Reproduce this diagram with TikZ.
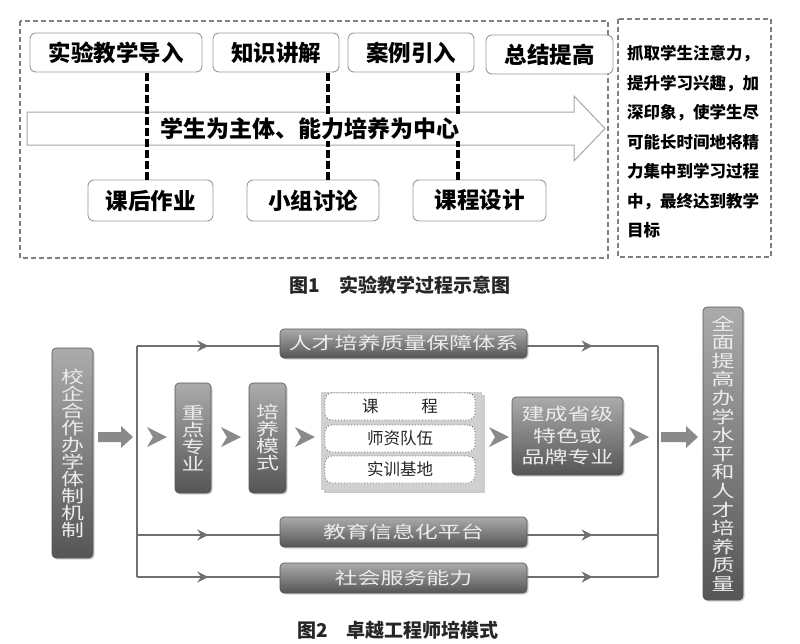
\documentclass[tikz,border=0pt]{standalone}
\usepackage{fontspec}
\newfontfamily\cjk{Noto Sans CJK SC}
\newfontfamily\cjkw[FakeStretch=1.35]{Noto Sans CJK SC}
\usetikzlibrary{shadows,decorations.markings,arrows.meta,calc}
\definecolor{boxline}{HTML}{9A9A9A}
\definecolor{dashgray}{HTML}{7F7F7F}
\definecolor{lnc}{HTML}{707070}
\definecolor{chevc}{HTML}{8A8A8A}
\definecolor{dtop}{HTML}{ABABAB}
\definecolor{dbot}{HTML}{555555}
\definecolor{dtext}{HTML}{ECECEC}
\definecolor{stackc}{HTML}{D0D0D0}
\definecolor{dotc}{HTML}{6A6A6A}
\tikzset{
 tbox/.style={draw=boxline, line width=0.9pt, rounded corners=6pt, fill=white, inner sep=0pt,
   font=\cjk\bfseries\fontsize{22.5}{22.5}\selectfont},
 dashbox/.style={draw=dashgray, line width=1.5pt, dash pattern=on 5pt off 3pt},
 vdash/.style={line width=3.5pt, dash pattern=on 8pt off 3pt, draw=black},
 dbox/.style={rounded corners=4pt, top color=dtop, bottom color=dbot, draw=dbot, line width=0.6pt,
   text=dtext, inner sep=0pt, align=center, font=\cjkw\fontsize{17}{17}\selectfont,
   drop shadow={opacity=0.35, shadow xshift=1.5pt, shadow yshift=-1.5pt}},
 ln/.style={draw=lnc, line width=2pt},
 midarrow/.style={postaction={decorate}, decoration={markings,
   mark=at position 0.5 with {\arrow[lnc]{Stealth[length=11pt,width=11pt]}}}},
 chev/.style={fill=chevc},
 ibox/.style={draw=dotc, dotted, line width=0.9pt, rounded corners=7pt, fill=white,
   minimum width=150pt, minimum height=27pt, inner sep=0pt, text=black!85,
   font=\cjk\fontsize{16.5}{16.5}\selectfont},
 captext/.style={font=\cjk\bfseries\fontsize{19}{19}\selectfont, text=black!85},
}
\newcommand{\chevron}[2]{\fill[chev] (#1,#2-10) -- (#1+20,#2) -- (#1,#2+10) -- (#1+6,#2) -- cycle;}
\newcommand{\blockarrow}[3]{\fill[chev] (#1,#3-5) -- (#2-12,#3-5) -- (#2-12,#3-11) -- (#2,#3) -- (#2-12,#3+11) -- (#2-12,#3+5) -- (#1,#3+5) -- cycle;}
\begin{document}
\begin{tikzpicture}[x=1pt,y=-1pt]
\useasboundingbox[fill=white] (0,0) rectangle (800,643);

% ---------- Figure 1 ----------
\draw[dashbox] (20,21) rectangle (608,258);
\draw[dashbox] (618,19) rectangle (771,257);

\draw[draw=gray!70, line width=1pt, fill=white]
  (27,112) -- (574,112) -- (574,96) -- (605,128.5) -- (574,161) -- (574,145) -- (27,145) -- cycle;

\node[tbox, minimum width=172pt, minimum height=39pt] (a1) at (116,52.5) {实验教学导入};
\node[tbox, minimum width=126pt, minimum height=39pt] (a2) at (276,52.5) {知识讲解};
\node[tbox, minimum width=126pt, minimum height=39pt] (a3) at (411,52.5) {案例引入};
\node[tbox, minimum width=127pt, minimum height=39pt] (a4) at (549.5,54.5) {总结提高};
\node[tbox, minimum width=125pt, minimum height=41pt] (b1) at (150.5,200.5) {课后作业};
\node[tbox, minimum width=132pt, minimum height=41pt] (b2) at (313,200.5) {小组讨论};
\node[tbox, minimum width=133pt, minimum height=41pt] (b3) at (479.5,200.5) {课程设计};

\draw[vdash] ($(b1.north)+(-3.5,0)$) -- ($(b1.north |- a1.south)+(-3.5,0)$);
\draw[vdash] ($(b2.north)+(15,0)$) -- ($(b2.north |- a2.south)+(15,0)$);
\draw[vdash] ($(b3.north)+(-21.5,0)$) -- ($(b3.north |- a3.south)+(-21.5,0)$);

\node[fill=white, inner sep=1pt, font=\cjk\bfseries\fontsize{23}{23}\selectfont] (core) at (310,128.5)
  {学生为主体、能力培养为中心};

\node[align=left, anchor=north west, inner sep=0pt, font=\cjk\bfseries\fontsize{16.5}{29.5}\selectfont] (note) at (627,45)
  {抓取学生注意力，\\提升学习兴趣，加\\深印象，使学生尽\\可能长时间地将精\\力集中到学习过程\\中，最终达到教学\\目标};

\node[captext] (cap1) at (400,285) {图1\hspace{1em}实验教学过程示意图};

% ---------- Figure 2 ----------
\node[dbox, minimum width=41pt, minimum height=210pt] (L) at (72.5,453)
  {校\\企\\合\\作\\办\\学\\体\\制\\机\\制};
\node[dbox, minimum width=40pt, minimum height=293pt, font=\cjkw\fontsize{17}{18.6}\selectfont] (R) at (723,453.5)
  {全\\面\\提\\高\\办\\学\\水\\平\\和\\人\\才\\培\\养\\质\\量};
\node[dbox, minimum width=36pt, minimum height=110pt] (Z) at (193,438) {重\\点\\专\\业};
\node[dbox, minimum width=37pt, minimum height=110pt] (P) at (267.5,438) {培\\养\\模\\式};
\node[dbox, minimum width=111pt, minimum height=78pt, font=\cjkw\fontsize{17}{21.5}\selectfont] (J) at (567.5,436)
  {建成省级\\特色或\\品牌专业};
\node[dbox, minimum width=247pt, minimum height=29pt] (B1) at (403.5,343.5) {人才培养质量保障体系};
\node[dbox, minimum width=247pt, minimum height=30pt] (B2) at (403.5,532) {教育信息化平台};
\node[dbox, minimum width=247pt, minimum height=30pt] (B3) at (403.5,578) {社会服务能力};

\fill[black!20] (324,395) rectangle (485,493);
\fill[stackc] (321,392) rectangle (482,490);
\node[ibox] (K1) at (400,406.5) {课\hspace{2.6em}程};
\node[ibox] (K2) at (400,438.5) {师资队伍};
\node[ibox] (K3) at (400,469.5) {实训基地};

\coordinate (v1) at (137,346);
\coordinate (v2) at (137,535);
\coordinate (v3) at (137,577);
\coordinate (w1) at (658,346);
\coordinate (w2) at (658,535);
\coordinate (w3) at (658,577);
\draw[ln] (v1) -- (v3);
\draw[ln] (w1) -- (w3);
\draw[ln, midarrow] (v1) -- (B1.west |- v1);
\draw[ln, midarrow] (v2) -- (B2.west |- v2);
\draw[ln, midarrow] (v3) -- (B3.west |- v3);
\draw[ln, midarrow] (B1.east |- w1) -- (w1);
\draw[ln, midarrow] (B2.east |- w2) -- (w2);
\draw[ln, midarrow] (B3.east |- w3) -- (w3);

\blockarrow{98}{133}{437}
\blockarrow{661}{698}{437}
\chevron{147}{437}
\chevron{221}{437}
\chevron{295}{437}
\chevron{489}{437}
\chevron{629}{437}

\node[captext] (cap2) at (398,630) {图2\hspace{1em}卓越工程师培模式};
\end{tikzpicture}
\end{document}
